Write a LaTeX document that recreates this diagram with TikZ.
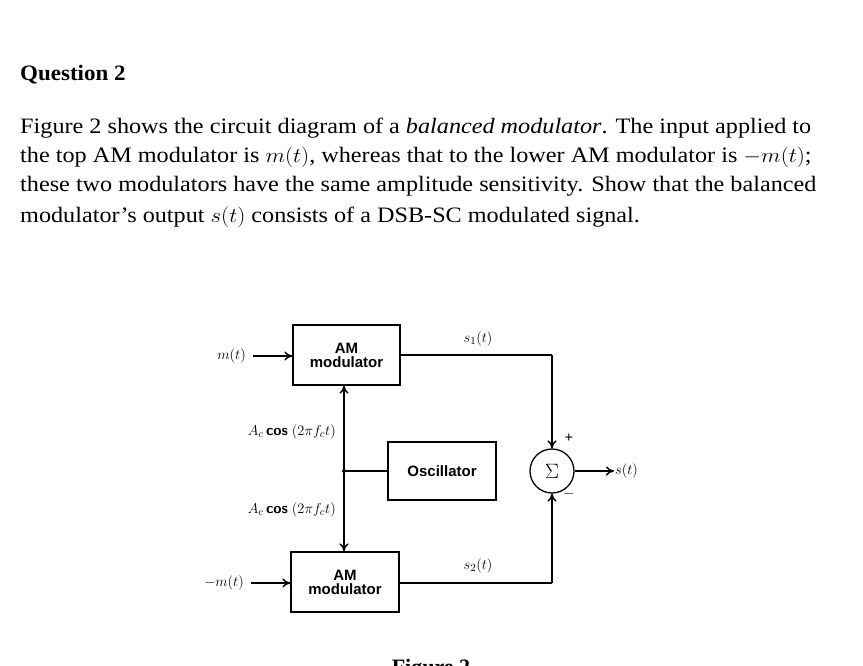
\documentclass[tikz,border=0pt]{standalone}
\usepackage{fontspec}
\setmainfont{Liberation Serif}
\newfontfamily\diag{Liberation Sans}
\usetikzlibrary{arrows.meta}
\begin{document}
\begin{tikzpicture}[x=1pt,y=1pt,
  txt/.style={anchor=base west,inner sep=0,font=\fontsize{22}{24}\selectfont,xscale=1.1},
  blk/.style={draw,line width=1.3pt,font=\diag\fontsize{15}{15}\selectfont\bfseries,align=center,inner sep=0},
  lbl/.style={font=\fontsize{15}{16}\selectfont,inner sep=1pt},
  wire/.style={line width=1.5pt},
  arr/.style={wire,-{To[length=8pt,width=9pt]}}]
\useasboundingbox (0,0) rectangle (863,665);
\fill[white] (0,0) rectangle (863,665);
\node[txt,font=\fontsize{22}{24}\selectfont\bfseries,xscale=0.95] (q) at (20,584) {Question 2};
\node[txt] (l1) at (20,531) {Figure 2 shows the circuit diagram of a \textit{balanced modulator}. The input applied to};
\node[txt] (l2) at (20,502) {the top AM modulator is $m(t)$, whereas that to the lower AM modulator is $-m(t)$;};
\node[txt] (l3) at (20,473) {these two modulators have the same amplitude sensitivity. Show that the balanced};
\node[txt] (l4) at (20,442) {modulator's output $s(t)$ consists of a DSB-SC modulated signal.};
% blocks
\node[blk,minimum width=107,minimum height=60] (am1) at (346.5,310) {AM\\[-1pt]modulator};
\node[blk,minimum width=108,minimum height=60] (am2) at (345,83) {AM\\[-1pt]modulator};
\node[blk,minimum width=108,minimum height=58] (osc) at (442,194) {Oscillator};
\node[draw,circle,line width=1.3pt,minimum size=44,inner sep=0,font=\fontsize{20}{20}\selectfont] (sum) at (552,194) {$\Sigma$};
\coordinate (j) at (344,194);
\fill (j) circle (2);
% inputs
\node[lbl,anchor=east] (m1) at (247,309) {$m(t)$};
\node[lbl,anchor=east] (m2) at (245,82) {$-m(t)$};
\draw[arr] ([xshift=6pt]m1.east) -- (am1.west |- m1);
\draw[arr] ([xshift=6pt]m2.east) -- (am2.west |- m2);
% oscillator feed
\draw[wire] (osc.west) -- (j);
\draw[arr] (j) -- (j |- am1.south);
\draw[arr] (j) -- (j |- am2.north);
\node[lbl,anchor=east] (c1) at (337,233) {$A_c\,$\textsf{\textbf{cos}}$\;(2\pi f_c t)$};
\node[lbl,anchor=east] (c2) at (337,155) {$A_c\,$\textsf{\textbf{cos}}$\;(2\pi f_c t)$};
% outputs
\coordinate (t1) at (552,310);
\coordinate (t2) at (552,82);
\draw[wire] (am1.east |- t1) -- (t1);
\draw[arr] (t1) -- (sum.north);
\draw[wire] (am2.east |- t2) -- (t2);
\draw[arr] (t2) -- (sum.south);
\node[lbl] (s1) at (478,326) {$s_1(t)$};
\node[lbl] (s2) at (478,99) {$s_2(t)$};
\node[lbl,font=\bfseries\fontsize{15}{16}\selectfont] (pl) at (569,227) {+};
\node[lbl,font=\bfseries\fontsize{15}{16}\selectfont] (mi) at (569,171) {$-$};
\node[lbl,anchor=west] (st) at (614,194) {$s(t)$};
\draw[arr] (sum.east) -- (st.west);
\node[anchor=base,inner sep=0,font=\fontsize{22}{24}\selectfont\bfseries] (fig) at (431,-9) {Figure 2};
\end{tikzpicture}
\end{document}
